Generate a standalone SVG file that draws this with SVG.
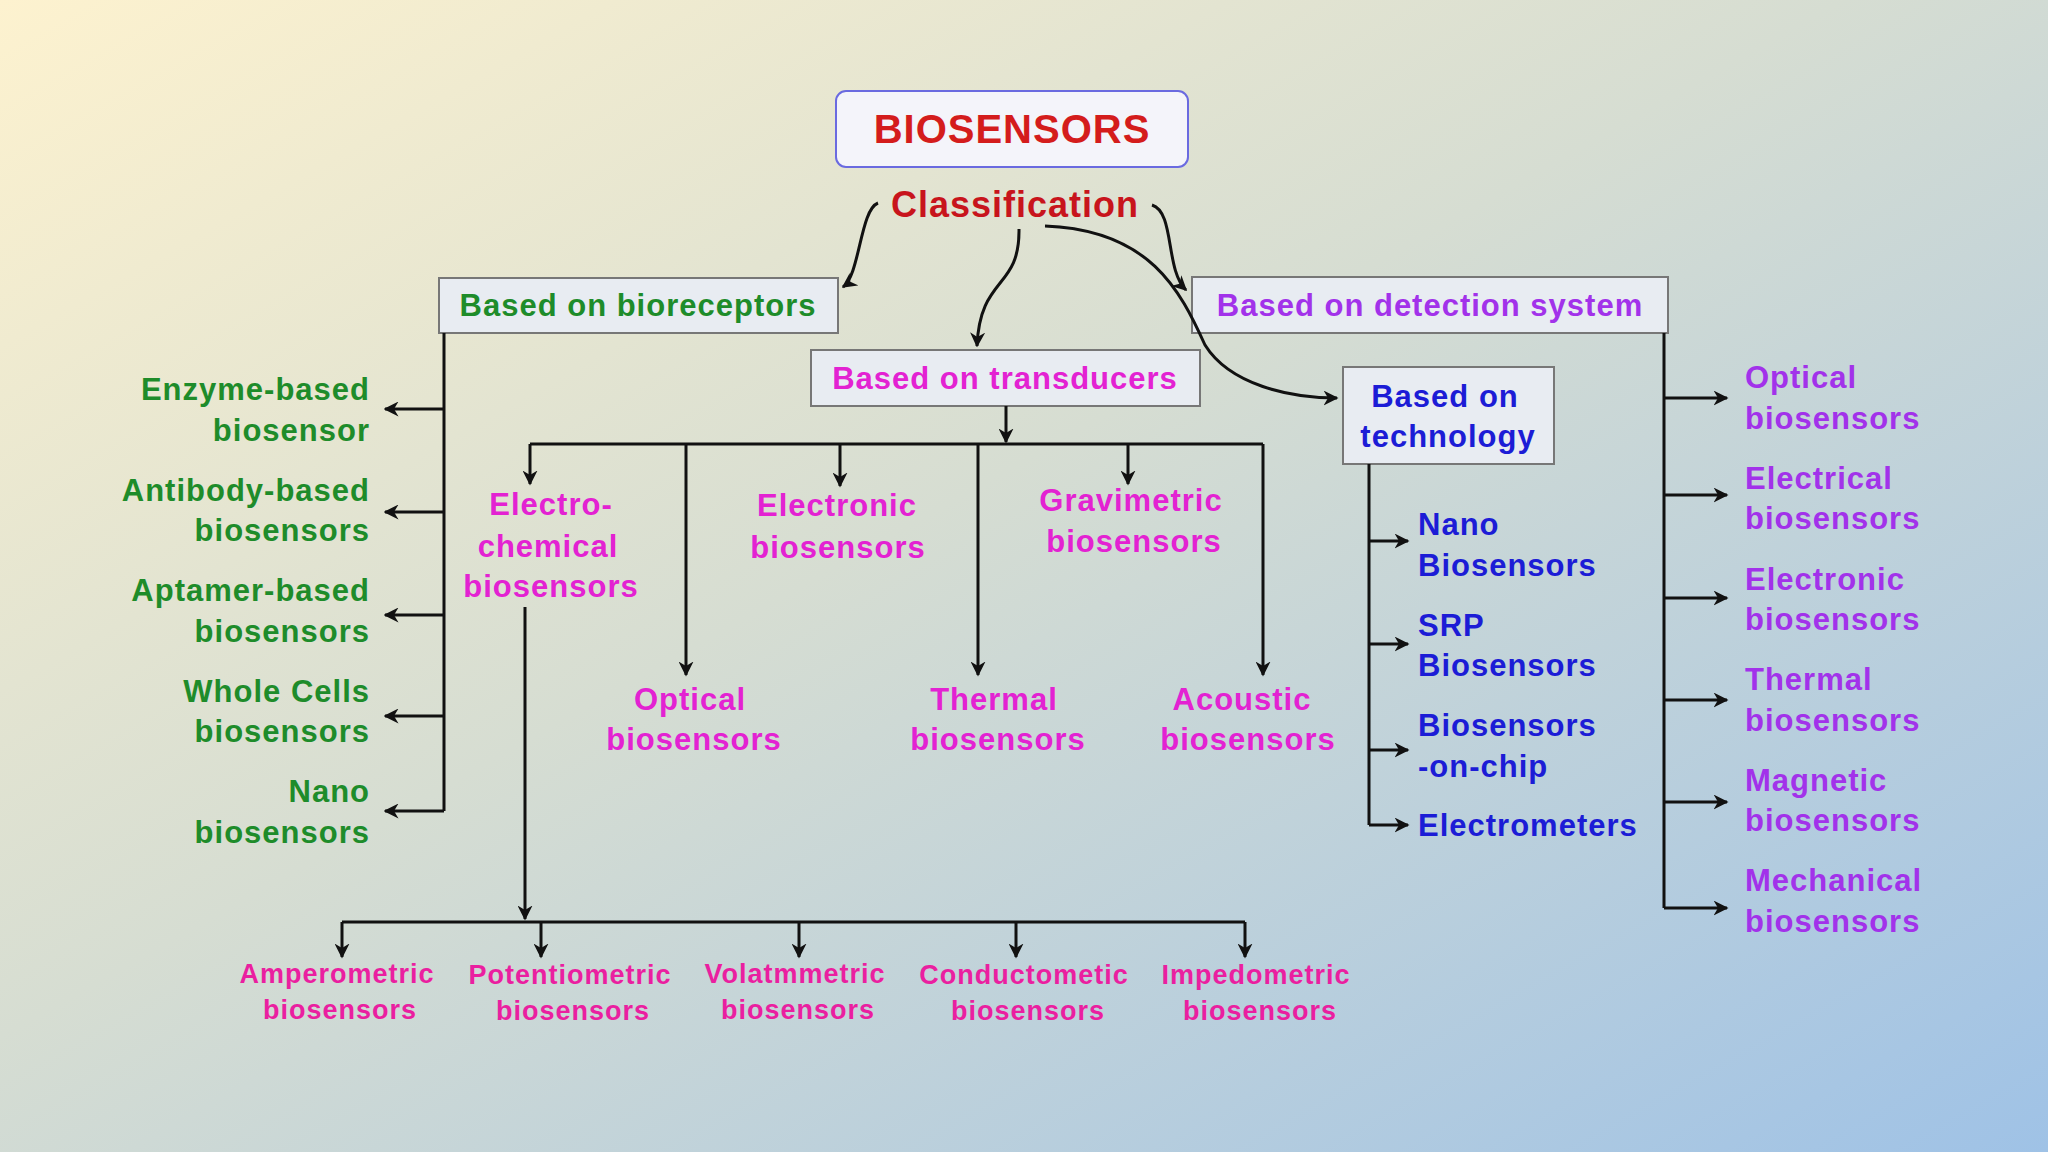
<svg xmlns="http://www.w3.org/2000/svg" width="2048" height="1152" viewBox="0 0 2048 1152">
<defs>
<linearGradient id="bg" x1="0" y1="0" x2="1" y2="1">
<stop offset="0" stop-color="#fdf2cf"/>
<stop offset="0.45" stop-color="#d6ddd2"/>
<stop offset="1" stop-color="#9fc2e6"/>
</linearGradient>
<marker id="ah" viewBox="0 0 10 10" refX="9" refY="5" markerWidth="15" markerHeight="15" orient="auto" markerUnits="userSpaceOnUse">
<path d="M0,0 L10,5 L0,10 L3,5 Z" fill="#111"/>
</marker>
<style>
text{font-family:"Liberation Sans",Arial,sans-serif;font-weight:bold;letter-spacing:1px;}
.t{font-size:31px;}
.g{fill:#1e8c2a;}
.m{fill:#e322d2;}
.p{fill:#ea1fa0;font-size:27px;letter-spacing:0.3px;}
.v{fill:#a232ea;}
.b{fill:#1c1cd6;}
.box{fill:#e8ecf2;stroke:#777;stroke-width:2;}
.ln{fill:none;stroke:#111;stroke-width:3;}
.ar{fill:none;stroke:#111;stroke-width:3;marker-end:url(#ah);}
</style>
</defs>
<rect width="2048" height="1152" fill="url(#bg)"/>

<g id="biosensors">
<rect x="836" y="91" width="352" height="76" rx="10" fill="#f4f4fa" stroke="#6a6ae0" stroke-width="2"/>
<text x="1012" y="143" text-anchor="middle" font-size="40" fill="#d41c1c">BIOSENSORS</text>
</g>
<g id="classification"><text x="1015" y="217" text-anchor="middle" font-size="36" fill="#c8141c">Classification</text></g>

<g id="bioreceptors">
<rect class="box" x="439" y="278" width="399" height="55"/>
<text class="t g" x="638" y="316" text-anchor="middle">Based on bioreceptors</text>
</g>
<g id="transducers">
<rect class="box" x="811" y="350" width="389" height="56"/>
<text class="t m" x="1005" y="389" text-anchor="middle">Based on transducers</text>
</g>
<g id="detection">
<rect class="box" x="1192" y="277" width="476" height="56"/>
<text class="t v" x="1430" y="316" text-anchor="middle">Based on detection system</text>
</g>
<g id="technology">
<rect class="box" x="1343" y="367" width="211" height="97"/>
<text class="t b" x="1445" y="407" text-anchor="middle">Based on</text>
<text class="t b" x="1448" y="447" text-anchor="middle">technology</text>
</g>

<g id="bio-items" class="t g" text-anchor="end">
<text x="370" y="400">Enzyme-based</text><text x="370" y="441">biosensor</text>
<text x="370" y="501">Antibody-based</text><text x="370" y="541">biosensors</text>
<text x="370" y="601">Aptamer-based</text><text x="370" y="642">biosensors</text>
<text x="370" y="702">Whole Cells</text><text x="370" y="742">biosensors</text>
<text x="370" y="802">Nano</text><text x="370" y="843">biosensors</text>
</g>

<g id="trans-items" class="t m" text-anchor="middle">
<text x="551" y="515">Electro-</text><text x="548" y="557">chemical</text><text x="551" y="597">biosensors</text>
<text x="837" y="516">Electronic</text><text x="838" y="558">biosensors</text>
<text x="1131" y="511">Gravimetric</text><text x="1134" y="552">biosensors</text>
<text x="690" y="710">Optical</text><text x="694" y="750">biosensors</text>
<text x="994" y="710">Thermal</text><text x="998" y="750">biosensors</text>
<text x="1242" y="710">Acoustic</text><text x="1248" y="750">biosensors</text>
</g>

<g id="electrochem-items" class="p" text-anchor="middle">
<text x="337" y="983">Amperometric</text><text x="340" y="1019">biosensors</text>
<text x="570" y="984">Potentiometric</text><text x="573" y="1020">biosensors</text>
<text x="795" y="983">Volatmmetric</text><text x="798" y="1019">biosensors</text>
<text x="1024" y="984">Conductometic</text><text x="1028" y="1020">biosensors</text>
<text x="1256" y="984">Impedometric</text><text x="1260" y="1020">biosensors</text>
</g>

<g id="tech-items" class="t b">
<text x="1418" y="535">Nano</text><text x="1418" y="576">Biosensors</text>
<text x="1418" y="636">SRP</text><text x="1418" y="676">Biosensors</text>
<text x="1418" y="736">Biosensors</text><text x="1418" y="777">-on-chip</text>
<text x="1418" y="836">Electrometers</text>
</g>

<g id="detect-items" class="t v">
<text x="1745" y="388">Optical</text><text x="1745" y="429">biosensors</text>
<text x="1745" y="489">Electrical</text><text x="1745" y="529">biosensors</text>
<text x="1745" y="590">Electronic</text><text x="1745" y="630">biosensors</text>
<text x="1745" y="690">Thermal</text><text x="1745" y="731">biosensors</text>
<text x="1745" y="791">Magnetic</text><text x="1745" y="831">biosensors</text>
<text x="1745" y="891">Mechanical</text><text x="1745" y="932">biosensors</text>
</g>

<g id="connectors">
<path class="ar" d="M878,203 C860,210 860,275 843,287"/>
<path class="ar" d="M1019,229 C1020,290 980,275 977,346"/>
<path class="ar" d="M1152,205 C1175,212 1165,270 1186,290"/>
<path class="ar" d="M1045,226 C1150,230 1180,290 1205,345 C1230,385 1290,398 1337,398"/>

<path class="ln" d="M444,333 V811"/>
<path class="ar" d="M444,409 H385"/><path class="ar" d="M444,512 H385"/><path class="ar" d="M444,615 H385"/><path class="ar" d="M444,716 H385"/><path class="ar" d="M444,811 H385"/>

<path class="ar" d="M1006,406 V442"/>
<path class="ln" d="M530,444 H1263"/>
<path class="ar" d="M530,444 V484"/><path class="ar" d="M686,444 V675"/><path class="ar" d="M840,444 V486"/>
<path class="ar" d="M978,444 V675"/><path class="ar" d="M1128,444 V484"/><path class="ar" d="M1263,444 V675"/>

<path class="ar" d="M525,607 V919"/>
<path class="ln" d="M342,922 H1245"/>
<path class="ar" d="M342,922 V957"/><path class="ar" d="M541,922 V957"/><path class="ar" d="M799,922 V957"/><path class="ar" d="M1016,922 V957"/><path class="ar" d="M1245,922 V957"/>

<path class="ln" d="M1369,464 V825"/>
<path class="ar" d="M1369,541 H1408"/><path class="ar" d="M1369,644 H1408"/><path class="ar" d="M1369,750 H1408"/><path class="ar" d="M1369,825 H1408"/>

<path class="ln" d="M1664,333 V908"/>
<path class="ar" d="M1664,398 H1727"/><path class="ar" d="M1664,495 H1727"/><path class="ar" d="M1664,598 H1727"/><path class="ar" d="M1664,700 H1727"/><path class="ar" d="M1664,802 H1727"/><path class="ar" d="M1664,908 H1727"/>
</g>
</svg>
